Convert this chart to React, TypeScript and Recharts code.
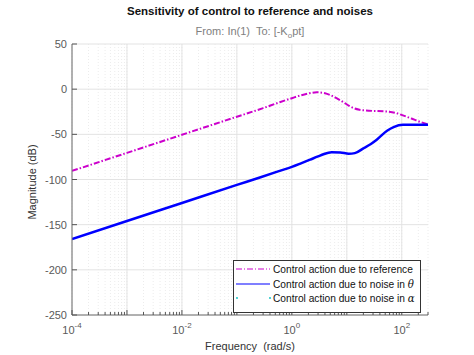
import React from 'react';
import { LineChart, Line, XAxis, YAxis, CartesianGrid, ReferenceLine } from 'recharts';

// frequencies (rad/s) and magnitudes (dB)
const refFreq = [1e-4, 1e-3, 1e-2, 1e-1, 0.3, 0.6, 1, 1.42, 2, 2.85, 4, 5, 6.5, 8.7, 11, 13.3, 17, 25, 54, 80, 105, 150, 200, 300];
const refMag = [-90.5, -70.5, -50.5, -30.5, -21, -14.5, -10, -7, -4.8, -3.5, -4.5, -6.5, -10, -14.5, -18.5, -21, -22.8, -23.8, -24.8, -26.5, -29, -32.5, -35.5, -39];

const thetaFreq = [1e-4, 1e-3, 1e-2, 1e-1, 0.27, 0.6, 1, 1.5, 2.15, 3, 3.76, 5.3, 7.6, 10.8, 14, 20, 27, 35, 54, 71, 105, 150, 300];
const thetaMag = [-166, -146, -126, -106, -97.5, -90.5, -86, -81.8, -78, -74.5, -72, -69.8, -70, -71.5, -70.8, -65.6, -61, -56, -46, -42, -39.5, -39.5, -39.5];

const seriesNames = [
  'Control action due to reference',
  'Control action due to noise in ',
  'Control action due to noise in ',
];
const seriesSymbols = ['', '\u03b8', '\u03b1'];

const decades = [1e-4, 1e-3, 1e-2, 1e-1, 1, 10, 100];
const minorSteps = [2, 3, 4, 5, 6, 7, 8, 9];
const yTicks = [-250, -200, -150, -100, -50, 0, 50];

const X_MIN = 1e-4;
const X_MAX = 300;

const xTicks: number[] = [];
decades.forEach((d) => {
  xTicks.push(d);
  minorSteps.forEach((m) => {
    if (d * m <= X_MAX) xTicks.push(d * m);
  });
});

const refData = refFreq.map((f, i) => ({ f, v: refMag[i] }));
const thetaData = thetaFreq.map((f, i) => ({ f, v: thetaMag[i] }));

const FONT = '"Liberation Sans", Arial, sans-serif';
const TICK_COLOR = '#555';

function isMajor(v: number) {
  const l = Math.log10(v);
  return Math.abs(l - Math.round(l)) < 1e-6;
}

const BottomTick = (props: any) => {
  const { x, y, payload } = props;
  const v = payload.value;
  const major = isMajor(v);
  const e = Math.round(Math.log10(v));
  return (
    <g>
      <line x1={x} x2={x} y1={y} y2={y - (major ? 5 : 3)} stroke={TICK_COLOR} />
      {major && e % 2 === 0 && (
        <text x={x} y={y + 19} textAnchor="middle" fontSize={11} fill="#5a5a5a" fontFamily={FONT}>
          10
          <tspan dy={-6} fontSize={8}>
            {e}
          </tspan>
        </text>
      )}
    </g>
  );
};

const TopTick = (props: any) => {
  const { x, y, payload } = props;
  const major = isMajor(payload.value);
  return <line x1={x} x2={x} y1={y} y2={y + (major ? 5 : 3)} stroke={TICK_COLOR} />;
};

const LeftTick = (props: any) => {
  const { x, y, payload } = props;
  return (
    <g>
      <line x1={x} x2={x + 5} y1={y} y2={y} stroke={TICK_COLOR} />
      <text x={x - 5} y={y + 4} textAnchor="end" fontSize={11} fill="#5a5a5a" fontFamily={FONT}>
        {payload.value}
      </text>
    </g>
  );
};

const RightTick = (props: any) => {
  const { x, y } = props;
  return <line x1={x} x2={x - 5} y1={y} y2={y} stroke={TICK_COLOR} />;
};

function LegendBox() {
  const rows = [269, 284, 298];
  return (
    <svg width={474} height={355} style={{ position: 'absolute', left: 0, top: 0, pointerEvents: 'none' }}>
      <rect x={233.5} y={260.5} width={187} height={52} fill="#fff" stroke="#333" />
      <line x1={236} x2={270} y1={rows[0]} y2={rows[0]} stroke="#cc00cc" strokeWidth={1.2} strokeDasharray="6 2 1 2" />
      <line x1={236} x2={270} y1={rows[1]} y2={rows[1]} stroke="#0000ff" strokeWidth={1.2} />
      <circle cx={237} cy={rows[2]} r={0.9} fill="#00bfbf" />
      <circle cx={270} cy={rows[2]} r={0.9} fill="#00bfbf" />
      {seriesNames.map((n, i) => (
        <text key={i} x={273} y={rows[i] + 4} fontSize={10.2} fill="#111" fontFamily={FONT}>
          {n}
          {seriesSymbols[i] && (
            <tspan fontStyle="italic" fontFamily='"DejaVu Serif", serif'>
              {seriesSymbols[i]}
            </tspan>
          )}
        </text>
      ))}
    </svg>
  );
}

export default function App() {
  return (
    <div style={{ position: 'absolute', left: 0, top: 0, width: 474, height: 355, background: '#fff', fontFamily: FONT }}>
      <LineChart width={474} height={355} margin={{ top: 44, right: 46, bottom: 0, left: 0 }}>
        <CartesianGrid horizontal={false} stroke="#ececec" strokeDasharray="1 2" />
        <CartesianGrid vertical={false} stroke="#e3e3e3" />
        {decades.map((d) => (
          <ReferenceLine key={d} x={d} stroke="#e3e3e3" />
        ))}
        <XAxis
          dataKey="f"
          type="number"
          scale="log"
          domain={[X_MIN, X_MAX]}
          allowDataOverflow
          ticks={xTicks}
          interval={0}
          height={40}
          tickSize={0}
          tickMargin={0}
          tick={<BottomTick />}
          axisLine={{ stroke: '#707070' }}
        />
        <XAxis
          xAxisId="top"
          orientation="top"
          dataKey="f"
          type="number"
          scale="log"
          domain={[X_MIN, X_MAX]}
          allowDataOverflow
          ticks={xTicks}
          interval={0}
          height={0}
          tickSize={0}
          tickMargin={0}
          tick={<TopTick />}
          axisLine={{ stroke: '#555' }}
        />
        <YAxis
          type="number"
          domain={[-250, 50]}
          ticks={yTicks}
          interval={0}
          width={72}
          tickSize={0}
          tickMargin={0}
          tick={<LeftTick />}
          axisLine={{ stroke: '#707070' }}
        />
        <YAxis
          yAxisId="right"
          orientation="right"
          type="number"
          domain={[-250, 50]}
          ticks={yTicks}
          interval={0}
          width={0}
          tickSize={0}
          tickMargin={0}
          tick={<RightTick />}
          axisLine={{ stroke: '#000', strokeWidth: 2 }}
        />
        <Line
          data={refData}
          dataKey="v"
          type="monotone"
          stroke="#cc00cc"
          strokeWidth={2}
          strokeDasharray="6 2 1.5 2"
          dot={false}
          isAnimationActive={false}
        />
        <Line
          data={thetaData}
          dataKey="v"
          type="monotone"
          stroke="#0000ff"
          strokeWidth={2.5}
          dot={false}
          isAnimationActive={false}
        />
        <text x={250} y={15} textAnchor="middle" fontSize={11.5} fontWeight="bold" fill="#111" fontFamily={FONT}>
          Sensitivity of control to reference and noises
        </text>
        <text x={250} y={35} textAnchor="middle" fontSize={11} fill="#808080" fontFamily={FONT} xmlSpace="preserve">
          {'From: In(1)  To: [-K'}
          <tspan dy={3} fontSize={8}>o</tspan>
          <tspan dy={-3}>pt]</tspan>
        </text>
        <text x={250} y={350} textAnchor="middle" fontSize={11} fill="#333" fontFamily={FONT} xmlSpace="preserve">
          {'Frequency  (rad/s)'}
        </text>
        <text
          x={36}
          y={182}
          textAnchor="middle"
          fontSize={11}
          fill="#333"
          fontFamily={FONT}
          transform="rotate(-90 36 182)"
        >
          Magnitude (dB)
        </text>
      </LineChart>
      <LegendBox />
    </div>
  );
}
